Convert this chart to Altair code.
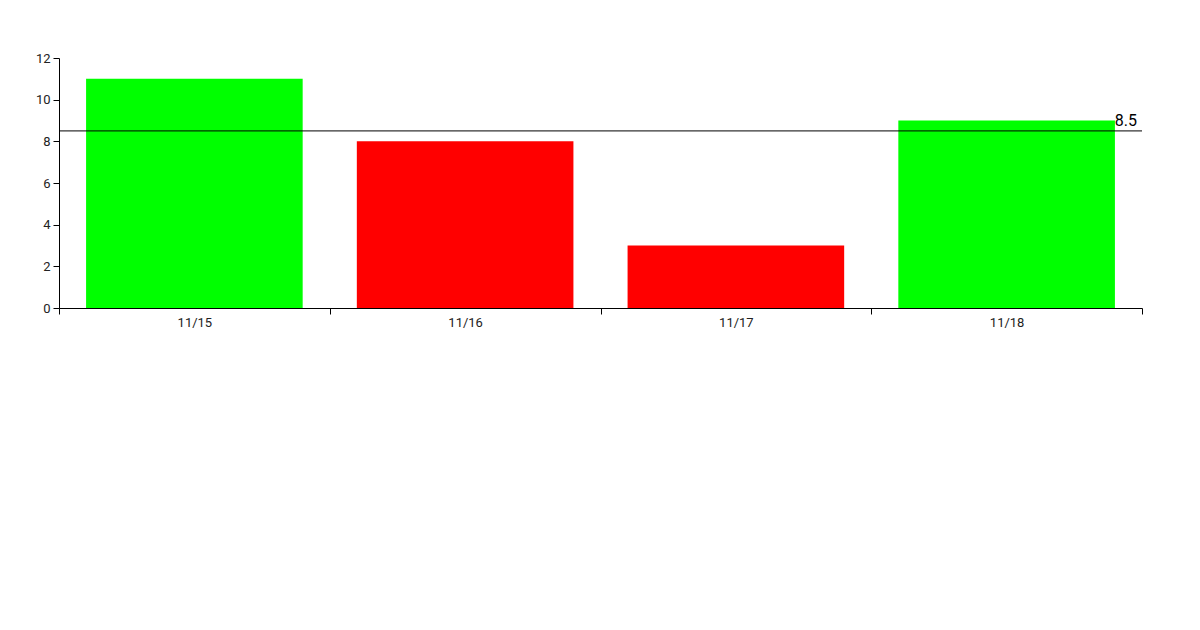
import altair as alt
import pandas as pd

dates = ["11/15", "11/16", "11/17", "11/18"]
values = [11, 8, 3, 9]
threshold = [8.5]

df = pd.DataFrame({"date": dates, "value": values})
df["status"] = ["above" if v >= threshold[0] else "below" for v in values]
tdf = pd.DataFrame({"t": threshold, "label": [str(t) for t in threshold]})

W, H = 1083, 250
FONT = "Roboto"

x = alt.X("date:N", sort=dates, title=None,
          scale=alt.Scale(paddingInner=0, paddingOuter=0),
          axis=alt.Axis(labelAngle=0, tickBand="extent", domainColor="black",
                        tickColor="black", labelColor="#222", labelFont=FONT,
                        labelFontSize=13, tickSize=6, labelPadding=2))

bars = alt.Chart(df).mark_bar(width=alt.RelativeBandSize(0.8)).encode(
    x=x,
    y=alt.Y("value:Q", title=None,
            scale=alt.Scale(domain=[0, 12], nice=False),
            axis=alt.Axis(values=[0, 2, 4, 6, 8, 10, 12], grid=False,
                          domainColor="black", tickColor="black",
                          labelColor="#222", labelFont=FONT, labelFontSize=13,
                          tickSize=6, labelPadding=3)),
    color=alt.Color("status:N",
                    scale=alt.Scale(domain=["above", "below"],
                                    range=["#00ff00", "#ff0000"]),
                    legend=None),
)

rule = alt.Chart(tdf).mark_rule(color="black", strokeWidth=1, opacity=1).encode(
    y="t:Q"
)

label = alt.Chart(tdf).mark_text(
    align="right", baseline="alphabetic", dx=-5, dy=-5,
    fontSize=16, font=FONT, color="black"
).encode(y="t:Q", x=alt.value(W), text="label:N")

chart = alt.layer(bars, rule, label).properties(
    width=W, height=H,
    background="white",
    autosize=alt.AutoSizeParams(type="none"),
    padding={"left": 51, "top": 50, "right": 50, "bottom": 50},
).configure_view(strokeWidth=0, stroke=None)

chart.save("out.html", embed_options={"renderer": "svg", "actions": False})
